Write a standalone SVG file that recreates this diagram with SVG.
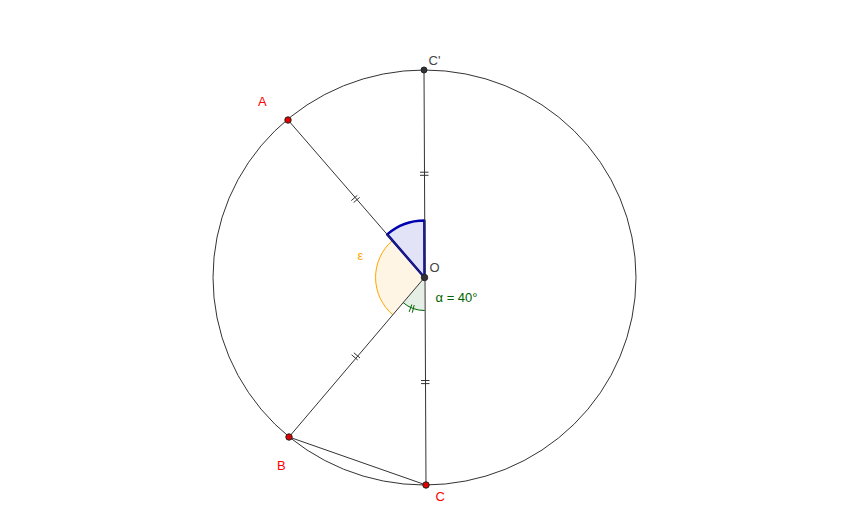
<svg xmlns="http://www.w3.org/2000/svg" width="850" height="518" viewBox="0 0 850 518">
<style>
.ln{stroke:#333;stroke-width:1;fill:none}
.tk{stroke:#333;stroke-width:1;fill:none}
.pt{stroke:#222;stroke-width:1}
.lbl{font-family:"Liberation Sans","DejaVu Sans",sans-serif;font-size:13px}
</style>
<rect width="850" height="518" fill="#fff"/>
<g id="angles">
<g id="angle-epsilon">
<path d="M424.5,277.5 L392.4,240.5 A49,49 0 0 0 392.8,314.8 Z" fill="#FFF5E5" stroke="none"/>
<path d="M392.4,240.5 A49,49 0 0 0 392.8,314.8" fill="none" stroke="#FFA500" stroke-width="1"/>
</g>
<g id="angle-blue">
<path d="M424.5,277.5 L424.36,220.5 A57,57 0 0 0 387.2,234.4 Z" fill="#E3E3F7" stroke="#0000B0" stroke-width="2.5" stroke-linejoin="round"/>
</g>
<g id="angle-alpha">
<path d="M424.5,277.5 L424.7,310.5 A33,33 0 0 1 403.1,302.6 Z" fill="#E5EFE5" stroke="none"/>
<path d="M424.7,310.5 A33,33 0 0 1 403.1,302.6" fill="none" stroke="#006400" stroke-width="1"/>
<path d="M414.2,305.1 L412.3,312.7 M411.8,304.5 L409.2,311.9" fill="none" stroke="#006400" stroke-width="1"/>
</g>
</g>
<g id="connectors">
<ellipse id="circle" cx="424.5" cy="277.5" rx="211.5" ry="207.5" class="ln"/>
<line x1="424" y1="70" x2="426" y2="485" class="ln"/>
<line x1="424.5" y1="277.5" x2="288" y2="120" class="ln"/>
<line x1="424.5" y1="277.5" x2="289" y2="437" class="ln"/>
<line x1="289" y1="437" x2="426" y2="485" class="ln"/>
<g id="ticks">
<path class="tk" d="M420,172.2 L428.5,172.2 M420,175.3 L428.5,175.3"/>
<path class="tk" d="M421,380.5 L429.5,380.5 M421,383.6 L429.5,383.6"/>
<path class="tk" d="M351.3,200.6 L357.3,195.4 M353.6,202.6 L359.6,197.4"/>
<path class="tk" d="M351.6,354.8 L357.7,360 M353.9,352.8 L360,358"/>
</g>
</g>
<g id="node-A"><circle cx="288" cy="120" r="3.2" fill="#E00000" class="pt"/><text x="258" y="106" class="lbl" fill="#FF0000">A</text></g>
<g id="node-B"><circle cx="289" cy="437" r="3.2" fill="#E00000" class="pt"/><text x="277" y="470" class="lbl" fill="#FF0000">B</text></g>
<g id="node-C"><circle cx="426" cy="485" r="3.2" fill="#E00000" class="pt"/><text x="435.5" y="500.5" class="lbl" fill="#FF0000">C</text></g>
<g id="node-Cp"><circle cx="424" cy="70" r="3" fill="#333" class="pt"/><text x="428.5" y="65" class="lbl" fill="#444">C'</text></g>
<g id="node-O"><circle cx="424.5" cy="277.5" r="3.2" fill="#333" class="pt"/><text x="429.5" y="272.3" class="lbl" fill="#444">O</text></g>
<text x="357.5" y="260" class="lbl" fill="#FFA500">ε</text>
<text x="435.5" y="301.5" class="lbl" fill="#006400">α = 40°</text>
</svg>
